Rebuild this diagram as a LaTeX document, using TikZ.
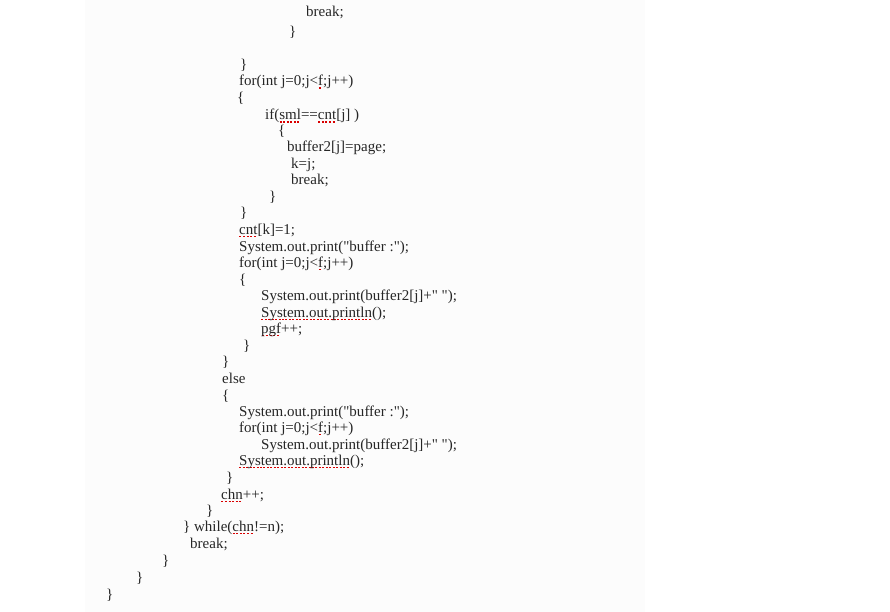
\documentclass[tikz,border=0pt]{standalone}
\usepackage{fontspec}
\setmainfont{Liberation Serif}
\usepackage{xcolor}
\newcommand\spell[1]{\leavevmode\setbox0\hbox{#1}\rlap{\raisebox{-2.8pt}{\color{red!85!black}\hbox to\wd0{\xleaders\hbox{\rule{2pt}{1.3pt}\hspace{1.4pt}}\hfill}}}\box0}
\newcommand\q{\textquotedbl}
\begin{document}
\begin{tikzpicture}[x=1pt,y=1pt,
  code/.style={anchor=base west,inner sep=0pt,font=\fontsize{15}{16}\selectfont,text=black!85}]
\useasboundingbox (0,0) rectangle (890,-612);
\fill[black!1.2] (85,0) rectangle (645,-612);
\foreach \n/\x/\y/\t in {
 l1/306/12/{break;},
 l2/289/32/\}, l3/240/65/\}, l4/239/81/{for(int j=0;j<\spell{f};j++)},
 l5/237/98/\{, l6/265/115/{if(\spell{sml}==\spell{cnt}[j] )},
 l7/278/131/\{, l8/287/147/{buffer2[j]=page;}, l9/291/164/{k=j;},
 l10/291/180/{break;}, l11/269/197/\}, l12/240/213/\},
 l13/239/229/{\spell{cnt}[k]=1;}, l14/239/246/{System.out.print(\q buffer :\q);},
 l15/239/262/{for(int j=0;j<\spell{f};j++)}, l16/239/279/\{,
 l17/261/295/{System.out.print(buffer2[j]+\q{} \q);},
 l18/261/312/{\spell{System.out.println}();}, l19/261/328/{\spell{pgf}++;},
 l20/243/345/\}, l21/222/361/\}, l22/222/378/{else}, l23/222/395/\{,
 l24/239/411/{System.out.print(\q buffer :\q);},
 l25/239/427/{for(int j=0;j<\spell{f};j++)},
 l26/261/444/{System.out.print(buffer2[j]+\q{} \q);},
 l27/239/460/{\spell{System.out.println}();}, l28/226/477/\},
 l29/221/494/{\spell{chn}++;}, l30/206/510/\},
 l31/183/526/{\} while(\spell{chn}!=n);}, l32/190/543/{break;},
 l33/162/560/\}, l34/136/577/\}, l35/106/594/\}}
 \node[code] (\n) at (\x,-\y-5) {\t};
\end{tikzpicture}
\end{document}
